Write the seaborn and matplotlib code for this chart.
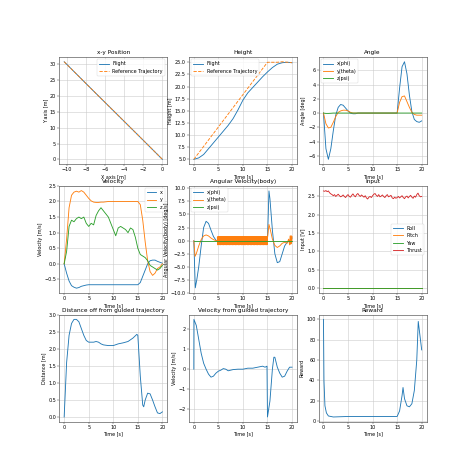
import numpy as np
import pandas as pd
import seaborn as sns
import matplotlib.pyplot as plt

# x-y position
pos_x = [-10.3, -7.5, -5.0, -2.5, 0.0]
pos_y = [30.8, 22.4, 14.95, 7.5, 0.0]

# height
t_h = list(range(21))
height = [5.0, 5.3, 6.0, 7.2, 8.4, 9.6, 10.8, 12.0, 13.4, 15.2, 17.2, 18.7, 19.8,
          20.9, 22.0, 23.0, 23.9, 24.6, 24.9, 25.0, 24.9]
t_href = [0, 15, 17, 18, 19, 20]
height_ref = [5.0, 25.0, 25.0, 25.1, 25.0, 24.9]

# angles
t_a = [0, 0.5, 1, 1.5, 2, 2.5, 3, 3.5, 4, 4.5, 5, 5.5, 6, 6.5, 7, 8, 9, 10, 12, 14, 15,
       15.5, 16, 16.5, 17, 17.5, 18, 18.5, 19, 19.5, 20]
ang_phi = [0, -5.0, -6.5, -5.0, -2.5, -0.3, 0.8, 1.2, 1.1, 0.7, 0.3, 0.0, -0.1, -0.1, 0,
           0, 0, 0, 0, 0, 0, 3.5, 6.5, 7.2, 5.5, 2.5, 0.2, -0.9, -1.2, -1.3, -1.1]
ang_theta = [0, -1.5, -2.1, -2.0, -1.3, -0.5, 0.1, 0.3, 0.4, 0.4, 0.3, 0.1, 0, 0, 0,
             0, 0, 0, 0, 0, 0, 1.5, 2.3, 2.4, 1.6, 0.8, 0.1, -0.2, -0.3, -0.3, -0.3]
ang_psi = [0, -0.05, -0.05, -0.03, 0, 0, 0, 0, 0, 0, 0, 0, 0, 0, 0,
           0, 0, 0, 0, 0, 0, 0, 0, 0, 0, 0, 0, 0, 0, 0, 0]

# velocity
t_v = [i * 0.5 for i in range(41)]
vel_x = [0, -0.3, -0.55, -0.7, -0.75, -0.78, -0.76, -0.72, -0.7, -0.68, -0.67, -0.67,
         -0.67, -0.67, -0.67, -0.67, -0.67, -0.67, -0.67, -0.67, -0.67, -0.67, -0.67,
         -0.67, -0.67, -0.67, -0.67, -0.67, -0.67, -0.67, -0.67, -0.6, -0.4, -0.2,
         0.0, 0.1, 0.12, 0.12, 0.08, 0.05, 0.02]
vel_y = [0, 0.8, 1.8, 2.2, 2.3, 2.33, 2.3, 2.35, 2.3, 2.2, 2.1, 2.02, 1.98, 1.97, 1.97,
         1.98, 1.98, 1.99, 2.0, 2.0, 2.0, 2.0, 2.0, 2.0, 2.0, 2.0, 2.0, 2.0, 2.0, 2.0,
         2.0, 1.9, 1.4, 0.7, 0.1, -0.25, -0.37, -0.3, -0.15, -0.1, 0.0]
vel_z = [0, 0.4, 1.2, 1.4, 1.35, 1.45, 1.5, 1.45, 1.5, 1.3, 1.2, 1.3, 1.25, 1.55, 1.7,
         1.8, 1.7, 1.6, 1.5, 1.3, 1.1, 0.9, 1.15, 1.2, 1.15, 1.1, 1.0, 1.15, 1.1, 0.85,
         0.5, 0.3, 0.25, 0.2, 0.1, -0.05, -0.1, -0.15, -0.2, -0.15, -0.05]

# angular velocity
t_w = [0, 0.3, 0.6, 1, 1.5, 2, 2.5, 3, 3.5, 4, 4.5, 5, 8, 12, 15, 15.3, 15.5, 16, 16.5,
       17, 17.5, 18, 18.5, 19, 19.5, 20]
w_phi = [0, -9.0, -7.5, -5.0, -1.0, 2.5, 3.7, 3.3, 2.0, 0.8, 0.1, -0.2, 0, 0, 0, 9.5,
         8.0, 2.0, -2.5, -4.2, -4.0, -2.5, -1.0, -0.3, 0.0, 0.5]
t_wth = [0, 0.25, 0.5, 1, 1.5, 2, 2.5, 3, 3.5, 4, 4.5, 4.8]
w_theta_a = [0, -3.0, -2.5, -1.0, 0.2, 0.9, 1.1, 0.9, 0.5, 0.2, 0.0, 0.0]
w_band = [0.7, -0.8, 0.75, -0.7, 0.8, -0.75, 0.7, -0.8, 0.75, -0.7, 0.8, -0.75] * 17
t_wth_b = [15, 15.3, 15.6, 16, 16.5, 17, 17.5, 18, 18.5, 19, 19.3, 19.5, 19.6, 19.7,
           19.8, 19.9, 20]
w_theta_b = [0.5, 3.1, 2.0, 0.3, -0.9, -1.3, -1.0, -0.5, -0.3, -0.5, 0.3, -0.8, 0.9,
             -0.7, 1.0, -0.6, 0.8]

# input
t_in = [i * 0.25 for i in range(81)]
thrust = [2.65, 2.64, 2.66, 2.63, 2.65, 2.60, 2.57, 2.55, 2.52, 2.55, 2.50, 2.53, 2.56,
          2.52, 2.49, 2.51, 2.54, 2.50, 2.47, 2.52, 2.55, 2.50, 2.48, 2.53, 2.57, 2.52,
          2.49, 2.55, 2.58, 2.53, 2.50, 2.54, 2.51, 2.48, 2.52, 2.46, 2.43, 2.48, 2.50,
          2.47, 2.52, 2.56, 2.58, 2.53, 2.50, 2.55, 2.49, 2.51, 2.54, 2.50, 2.47, 2.52,
          2.55, 2.49, 2.51, 2.53, 2.46, 2.44, 2.48, 2.45, 2.47, 2.50, 2.46, 2.49, 2.52,
          2.47, 2.44, 2.49, 2.51, 2.46, 2.50, 2.53, 2.48, 2.45, 2.51, 2.48, 2.55, 2.59,
          2.52, 2.49, 2.50]
t_in0 = [0, 20]
in_zero = [0.0, 0.0]

# distance off guided trajectory
t_d = [0, 0.5, 1, 1.5, 2, 2.5, 3, 3.5, 4, 4.5, 5, 5.5, 6, 6.5, 7, 7.5, 8, 9, 10, 11,
       12, 13, 14, 14.8, 15, 15.5, 16, 16.2, 16.5, 17, 17.5, 18, 18.5, 19, 19.5, 20]
dist = [0, 1.6, 2.4, 2.75, 2.87, 2.87, 2.8, 2.6, 2.4, 2.25, 2.2, 2.2, 2.2, 2.22, 2.2,
        2.15, 2.12, 2.1, 2.1, 2.15, 2.18, 2.22, 2.32, 2.43, 2.4, 1.2, 0.35, 0.3, 0.5,
        0.7, 0.68, 0.5, 0.3, 0.12, 0.1, 0.15]

# velocity from guided trajectory
t_g = [0, 0.02, 0.5, 1, 1.5, 2, 2.5, 3, 3.5, 4, 4.5, 5, 5.5, 6, 6.5, 7, 7.5, 8, 9, 10,
       11, 12, 13, 14, 14.5, 14.9, 15, 15.5, 16, 16.3, 16.5, 17, 17.5, 18, 18.5, 19,
       19.5, 20]
vel_g = [0, 2.5, 2.2, 1.5, 0.8, 0.3, 0, -0.25, -0.4, -0.35, -0.2, -0.1, -0.05, 0.03, 0,
         -0.08, -0.05, -0.02, 0, 0, 0.05, 0.05, 0.1, 0.15, 0.1, 0.15, -2.4, -1.6, 0,
         0.6, 0.6, 0.1, -0.2, -0.4, -0.35, -0.1, 0.1, 0.1]

# reward
t_r = [0, 0.1, 0.3, 0.6, 1, 2, 5, 10, 14, 15, 15.5, 16, 16.2, 16.5, 17, 17.5, 18, 18.5,
       19, 19.3, 19.5, 20]
reward = [100, 40, 15, 8, 5, 4, 4.5, 4.5, 4.5, 4.5, 10, 25, 33, 22, 15, 14, 17, 30, 60,
          98, 90, 70]

plt.rcParams['axes.linewidth'] = 1.5
plt.rcParams['axes.edgecolor'] = '#555555'
plt.rcParams['grid.linewidth'] = 1.2
plt.rcParams['grid.color'] = '#c8c8c8'
plt.rcParams['font.size'] = 11
fig, axes = plt.subplots(3, 3, figsize=(15, 15))


def line(ax, x, y, **kw):
    sns.lineplot(x=x, y=y, ax=ax, sort=False, estimator=None, linewidth=2, **kw)


ax = axes[0, 0]
line(ax, pos_x, pos_y, label='Flight')
line(ax, pos_x, pos_y, label='Reference Trajectory', linestyle='--')
ax.legend(loc='upper right')
ax.set_title('x-y Position'); ax.set_xlabel('X axis [m]'); ax.set_ylabel('Y axis [m]')

ax = axes[0, 1]
line(ax, t_h, height, label='Flight')
line(ax, t_href, height_ref, label='Reference Trajectory', linestyle='--')
ax.legend(loc='upper left')
ax.set_title('Height'); ax.set_xlabel('Time [s]'); ax.set_ylabel('Height [m]')

ax = axes[0, 2]
line(ax, t_a, ang_phi, label='x(phi)')
line(ax, t_a, ang_theta, label='y(theta)')
line(ax, t_a, ang_psi, label='z(psi)')
ax.legend(loc='upper left')
ax.set_title('Angle'); ax.set_xlabel('Time [s]'); ax.set_ylabel('Angle [deg]')

ax = axes[1, 0]
line(ax, t_v, vel_x, label='x')
line(ax, t_v, vel_y, label='y')
line(ax, t_v, vel_z, label='z')
ax.legend(loc='upper right')
ax.set_title('Velocity'); ax.set_xlabel('Time [s]'); ax.set_ylabel('Velocity [m/s]')

ax = axes[1, 1]
t_band = list(np.linspace(4.8, 15, len(w_band)))
line(ax, t_w, w_phi, label='x(phi)')
line(ax, t_wth + t_band + t_wth_b, w_theta_a + w_band + w_theta_b, label='y(theta)')
line(ax, [0, 20], [0, 0], label='z(psi)')
ax.legend(loc='upper left')
ax.set_ylim(-10, 10.5)
ax.set_title('Angular Velocity(body)'); ax.set_xlabel('Time [s]')
ax.set_ylabel('Angular Velocity(body) [deg/s]')

ax = axes[1, 2]
line(ax, t_in0, in_zero, label='Roll')
line(ax, t_in0, in_zero, label='Pitch')
line(ax, t_in0, in_zero, label='Yaw')
line(ax, t_in, thrust, label='Thrust', color='tab:red')
ax.legend(loc='center right')
ax.set_title('Input'); ax.set_xlabel('Time [s]'); ax.set_ylabel('Input [V]')

ax = axes[2, 0]
line(ax, t_d, dist)
ax.set_title('Distance off from guided trajectory'); ax.set_xlabel('Time [s]')
ax.set_ylabel('Distance [m]')

ax = axes[2, 1]
line(ax, t_g, vel_g)
ax.set_title('Velocity from guided trajectory'); ax.set_xlabel('Time [s]')
ax.set_ylabel('Velocity [m/s]')

ax = axes[2, 2]
line(ax, t_r, reward)
ax.set_title('Reward'); ax.set_xlabel('Time [s]'); ax.set_ylabel('Reward')

for a in axes.flat:
    a.grid(True)

plt.savefig('out.png', dpi=31.6)
